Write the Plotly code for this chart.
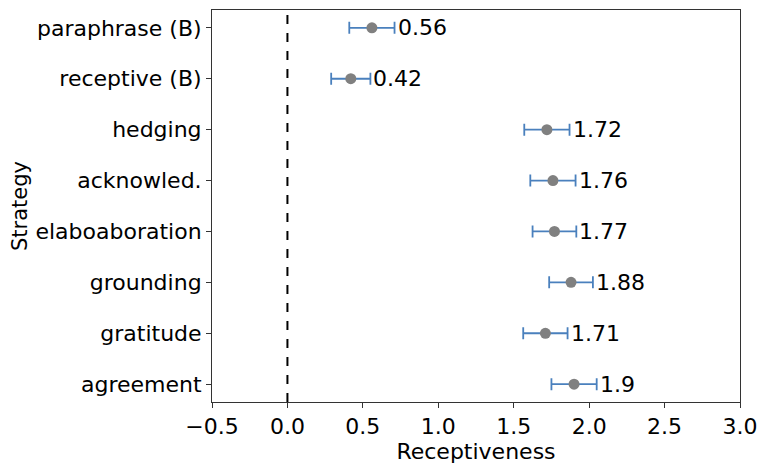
import plotly.graph_objects as go

# data, listed top to bottom as in the chart
strategies = ["paraphrase (B)", "receptive (B)", "hedging", "acknowled.",
              "elaboaboration", "grounding", "gratitude", "agreement"]
receptiveness = [0.56, 0.42, 1.72, 1.76, 1.77, 1.88, 1.71, 1.9]
errors = [0.15, 0.13, 0.15, 0.15, 0.145, 0.145, 0.147, 0.15]

font = "DejaVu Sans"

fig = go.Figure()
fig.add_trace(
  go.Scatter(
    x=receptiveness,
    y=strategies,
    mode="markers",
    marker=dict(color="#808080", size=11),
    error_x=dict(type="data", array=errors, color="#4a80bd", thickness=1.8, width=6),
    showlegend=False,
  )
)

for s, v, e in zip(strategies, receptiveness, errors):
  fig.add_annotation(
    x=v + e, y=s, text=f"{v:g}", showarrow=False,
    xanchor="left", yanchor="middle", xshift=1,
    font=dict(family=font, size=22, color="black"),
  )

fig.add_shape(
  type="line", x0=0, x1=0, y0=0, y1=1, xref="x", yref="paper",
  line=dict(color="black", width=2, dash="dash"),
)

# page body adds an 8px offset, so the figure is a bit smaller than the window
fig.update_layout(
  width=757, height=463,
  margin=dict(l=204, r=25, t=2, b=69),
  plot_bgcolor="white", paper_bgcolor="white",
  font=dict(family=font, size=22, color="black"),
  xaxis=dict(
    title=dict(text="Receptiveness", standoff=3, font=dict(size=22)),
    range=[-0.5, 3.0], dtick=0.5, tickformat=".1f",
    tickfont=dict(size=22),
    showgrid=False, zeroline=False,
    showline=True, linecolor="#333", linewidth=1, mirror=True,
    ticks="outside", ticklen=5, tickcolor="#333",
  ),
  yaxis=dict(
    title=dict(text="Strategy", standoff=6, font=dict(size=21)),
    categoryorder="array", categoryarray=strategies[::-1],
    range=[-0.35, 7.35],
    tickfont=dict(size=22),
    showgrid=False, zeroline=False,
    showline=True, linecolor="#333", linewidth=1, mirror=True,
    ticks="outside", ticklen=5, tickcolor="#333",
  ),
)

fig.write_html("out.html")
